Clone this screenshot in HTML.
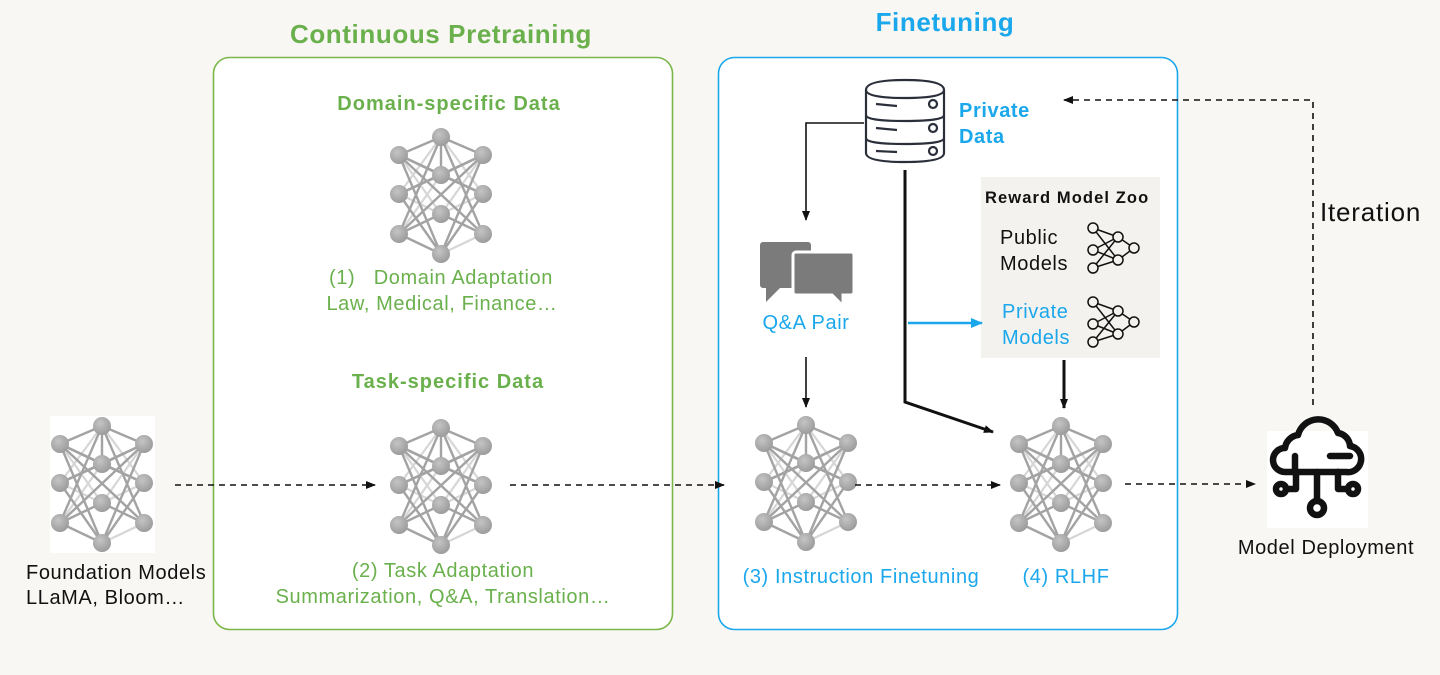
<!DOCTYPE html>
<html><head><meta charset="utf-8"><style>
html,body{margin:0;padding:0;background:#f9f7f3;}
svg{display:block;font-family:"Liberation Sans",sans-serif;}
.t{font-size:20px;letter-spacing:0.6px;}
</style></head><body>
<svg width="1440" height="675" viewBox="0 0 1440 675" xmlns="http://www.w3.org/2000/svg">
<defs>
<radialGradient id="ng" cx="0.4" cy="0.35" r="0.7"><stop offset="0" stop-color="#c4c4c4"/><stop offset="1" stop-color="#999"/></radialGradient>
<g id="net">
 <g stroke="#d6d6d6" stroke-width="2.2">
  <line x1="0" y1="0" x2="-42" y2="57"/><line x1="0" y1="0" x2="42" y2="57"/>
  <line x1="-42" y1="57" x2="0" y2="77"/><line x1="42" y1="57" x2="0" y2="77"/>
  <line x1="-42" y1="18" x2="0" y2="77"/><line x1="42" y1="18" x2="0" y2="77"/>
  <line x1="-42" y1="97" x2="0" y2="38"/><line x1="42" y1="97" x2="0" y2="117"/>
 </g>
 <g stroke="#a3a3a3" stroke-width="2.4">
  <line x1="0" y1="0" x2="-42" y2="18"/><line x1="0" y1="0" x2="42" y2="18"/>
  <line x1="0" y1="0" x2="0" y2="38"/>
  <line x1="0" y1="0" x2="-42" y2="97"/><line x1="0" y1="0" x2="42" y2="97"/>
  <line x1="-42" y1="18" x2="0" y2="38"/><line x1="42" y1="18" x2="0" y2="38"/>
  <line x1="-42" y1="18" x2="0" y2="117"/><line x1="42" y1="18" x2="0" y2="117"/>
  <line x1="-42" y1="18" x2="42" y2="57"/><line x1="42" y1="18" x2="-42" y2="57"/>
  <line x1="-42" y1="57" x2="0" y2="38"/><line x1="42" y1="57" x2="0" y2="38"/>
  <line x1="-42" y1="57" x2="0" y2="117"/><line x1="42" y1="57" x2="0" y2="117"/>
  <line x1="-42" y1="97" x2="0" y2="77"/><line x1="42" y1="97" x2="0" y2="77"/>
  <line x1="-42" y1="97" x2="0" y2="117"/>
  <line x1="-42" y1="97" x2="42" y2="18"/><line x1="42" y1="97" x2="-42" y2="18"/>
 </g>
 <g fill="url(#ng)">
  <circle cx="0" cy="0" r="9"/><circle cx="-42" cy="18" r="9"/><circle cx="-42" cy="57" r="9"/><circle cx="-42" cy="97" r="9"/>
  <circle cx="42" cy="18" r="9"/><circle cx="42" cy="57" r="9"/><circle cx="42" cy="97" r="9"/>
  <circle cx="0" cy="38" r="9"/><circle cx="0" cy="77" r="9"/><circle cx="0" cy="117" r="9"/>
 </g>
</g>
<g id="mini" fill="none" stroke="#111" stroke-width="1.5">
 <line x1="0" y1="0" x2="25" y2="9"/><line x1="0" y1="0" x2="25" y2="32"/>
 <line x1="0" y1="22" x2="25" y2="9"/><line x1="0" y1="22" x2="25" y2="32"/>
 <line x1="0" y1="40" x2="25" y2="9"/><line x1="0" y1="40" x2="25" y2="32"/>
 <line x1="25" y1="9" x2="41" y2="20"/><line x1="25" y1="32" x2="41" y2="20"/>
 <g fill="#f4f2ee"><circle cx="0" cy="0" r="5"/><circle cx="0" cy="22" r="5"/><circle cx="0" cy="40" r="5"/>
 <circle cx="25" cy="9" r="5"/><circle cx="25" cy="32" r="5"/><circle cx="41" cy="20" r="5"/></g>
</g>
<marker id="ah" markerWidth="10" markerHeight="10" refX="9" refY="5" orient="auto" markerUnits="userSpaceOnUse"><path d="M0,1 L10,5 L0,9 Z" fill="#111"/></marker>
<marker id="ahb" markerWidth="12" markerHeight="12" refX="11" refY="6" orient="auto" markerUnits="userSpaceOnUse"><path d="M0,1 L12,6 L0,11 Z" fill="#1aa7ec"/></marker>
</defs>

<rect x="213.5" y="57.5" width="459" height="572" rx="16" fill="#fff" stroke="#7ab648" stroke-width="1.6"/>
<rect x="718.5" y="57.5" width="459" height="572" rx="16" fill="#fff" stroke="#1aa7ec" stroke-width="1.6"/>
<text x="441" y="43" text-anchor="middle" font-size="26" letter-spacing="0.6" font-weight="bold" fill="#6ab04c">Continuous Pretraining</text>
<text x="945" y="31" text-anchor="middle" font-size="26" letter-spacing="0.6" font-weight="bold" fill="#1aa7ec">Finetuning</text>

<rect x="50" y="416" width="105" height="137" fill="#fff"/>
<use href="#net" x="102" y="426"/>
<text class="t" x="26" y="579" fill="#111">Foundation Models</text>
<text class="t" x="26" y="604" fill="#111">LLaMA, Bloom…</text>

<text x="449" y="110" text-anchor="middle" font-size="20" letter-spacing="1" font-weight="bold" fill="#6ab04c">Domain-specific Data</text>
<use href="#net" x="441" y="137"/>
<text class="t" x="441" y="284" text-anchor="middle" fill="#6ab04c" xml:space="preserve">(1)   Domain Adaptation</text>
<text class="t" x="442" y="310" text-anchor="middle" fill="#6ab04c">Law, Medical, Finance…</text>
<text x="448" y="388" text-anchor="middle" font-size="20" letter-spacing="1" font-weight="bold" fill="#6ab04c">Task-specific Data</text>
<use href="#net" x="441" y="428"/>
<text class="t" x="443" y="577" text-anchor="middle" fill="#6ab04c">(2) Task Adaptation</text>
<text class="t" x="443" y="603" text-anchor="middle" fill="#6ab04c">Summarization, Q&amp;A, Translation…</text>

<g fill="#fff" stroke="#2a2f3a" stroke-width="2.2">
 <path d="M866,90 Q866,80 905,80 Q944,80 944,90 L944,153 Q944,162 905,162 Q866,162 866,153 Z"/>
 <path d="M866,90 Q866,98 905,98 Q944,98 944,90" fill="none"/>
 <path d="M866,115 Q866,121 905,121 Q944,121 944,115" fill="none"/>
 <path d="M866,138 Q866,144 905,144 Q944,144 944,138" fill="none"/>
 <line x1="876" y1="104" x2="897" y2="106"/><line x1="876" y1="128" x2="897" y2="130"/><line x1="876" y1="151" x2="897" y2="152"/>
 <circle cx="933" cy="104" r="4"/><circle cx="933" cy="128" r="4"/><circle cx="933" cy="151" r="4"/>
</g>
<text x="959" y="117" font-size="20" letter-spacing="0.6" font-weight="bold" fill="#1aa7ec">Private</text>
<text x="959" y="143" font-size="20" letter-spacing="0.6" font-weight="bold" fill="#1aa7ec">Data</text>

<path d="M763,242 h45 a3,3 0 0 1 3,3 v40 a3,3 0 0 1 -3,3 h-28 l-14,14 v-14 h-3 a3,3 0 0 1 -3,-3 v-40 a3,3 0 0 1 3,-3z" fill="#7b7b7b"/>
<path d="M796,252 h55 a3,3 0 0 1 3,3 v37 a3,3 0 0 1 -3,3 h-8 v11 l-11,-11 h-36 a3,3 0 0 1 -3,-3 v-37 a3,3 0 0 1 3,-3z" fill="#7b7b7b" stroke="#fff" stroke-width="3"/>
<text class="t" x="806" y="329" text-anchor="middle" fill="#1aa7ec">Q&amp;A Pair</text>

<rect x="981" y="177" width="179" height="181" fill="#f4f2ee"/>
<text x="985" y="203" font-size="16.5" letter-spacing="1.1" font-weight="bold" fill="#111">Reward Model Zoo</text>
<text class="t" x="1000" y="244" fill="#111">Public</text>
<text class="t" x="1000" y="270" fill="#111">Models</text>
<use href="#mini" x="1093" y="228"/>
<text class="t" x="1002" y="318" fill="#1aa7ec">Private</text>
<text class="t" x="1002" y="344" fill="#1aa7ec">Models</text>
<use href="#mini" x="1093" y="302"/>

<use href="#net" x="806" y="425"/>
<use href="#net" x="1061" y="426"/>
<text class="t" x="861" y="583" text-anchor="middle" fill="#1aa7ec">(3) Instruction Finetuning</text>
<text class="t" x="1066" y="583" text-anchor="middle" fill="#1aa7ec">(4) RLHF</text>

<rect x="1267" y="431" width="101" height="97" fill="#fff"/>
<g fill="none" stroke="#111" stroke-width="6.5" stroke-linecap="round" stroke-linejoin="round">
 <path d="M1294,472 h-9 a12,12 0 0 1 0,-24 a15,15 0 0 1 13,-13 a21,21 0 0 1 40,-2 a14,14 0 0 1 12,13 a12,12 0 0 1 -4,26 h-8"/>
 <path d="M1295,472 h43"/><path d="M1295,472 v-16"/><path d="M1330,456 h20"/>
 <path d="M1296,472 v17 h-10"/><path d="M1317,472 v28"/><path d="M1338,472 v17 h9"/>
 <circle cx="1281" cy="489" r="5"/><circle cx="1353" cy="489" r="5"/><circle cx="1317" cy="508" r="7"/>
</g>
<text class="t" x="1326" y="554" text-anchor="middle" fill="#111">Model Deployment</text>
<text x="1320" y="221" font-size="26" letter-spacing="0.8" fill="#111">Iteration</text>

<g fill="none" stroke="#111" stroke-width="1.6" stroke-dasharray="6,5">
 <line x1="175" y1="485" x2="375" y2="485" marker-end="url(#ah)"/>
 <line x1="510" y1="485" x2="724" y2="485" marker-end="url(#ah)"/>
 <line x1="855" y1="485" x2="1000" y2="485" marker-end="url(#ah)"/>
 <line x1="1125" y1="484" x2="1255" y2="484" marker-end="url(#ah)"/>
 <polyline points="1313,405 1313,100 1064,100" marker-end="url(#ah)"/>
</g>
<g fill="none" stroke="#111" stroke-width="1.6">
 <polyline points="864,123 806,123 806,220" marker-end="url(#ah)"/>
 <line x1="806" y1="357" x2="806" y2="407" marker-end="url(#ah)"/>
</g>
<g fill="none" stroke="#111" stroke-width="3">
 <polyline points="905,170 905,402 993,432" marker-end="url(#ah)"/>
 <line x1="1064" y1="360" x2="1064" y2="408" marker-end="url(#ah)"/>
</g>
<line x1="908" y1="323" x2="982" y2="323" stroke="#1aa7ec" stroke-width="2.6" marker-end="url(#ahb)"/>
</svg>
</body></html>
